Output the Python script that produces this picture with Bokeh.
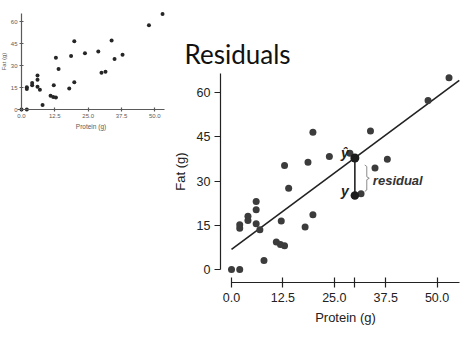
from bokeh.plotting import figure
from bokeh.models import Range1d, FixedTicker, PrintfTickFormatter, LinearAxis, Label
from bokeh.embed import file_html
from bokeh.resources import INLINE
from bokeh.core.properties import value

# ---- data ----
protein = [0.0, 2.0, 2.0, 2.0, 4.0, 4.0, 6.0, 6.0, 6.0, 6.9, 7.9, 10.9, 11.9, 12.9,
           12.1, 12.9, 13.9, 17.9, 18.6, 19.8, 19.8, 23.8, 28.8, 30.0, 31.5, 33.8,
           34.9, 37.9, 47.8, 52.9]
fat = [0.0, 0.0, 14.0, 15.2, 18.1, 16.6, 23.1, 20.3, 15.5, 13.5, 3.1, 9.3, 8.5, 8.1,
       16.5, 35.3, 27.6, 14.4, 36.4, 18.6, 46.6, 38.4, 39.5, 25.1, 25.7, 47.0,
       34.5, 37.4, 57.4, 65.1]
highlight_index = 23          # the point whose residual is shown
intercept = 6.8               # fitted line
slope = 1.036
line_x = [0.0, 55.4]

x_ticks = [0, 12.5, 25, 37.5, 50]
big_x_ticks = [0, 12.5, 25, 30, 37.5, 50]
y_ticks = [0, 15, 30, 45, 60]

title_text = "Residuals"
x_label = "Protein (g)"
y_label = "Fat (g)"
resid_label = "residual"
yhat_label = "ŷ"
y_obs_label = "y"

SANS = "Liberation Sans"
INK = "#222222"
W, H = 472, 350

# one canvas; the big chart uses the default ranges, the small one extra ranges
p = figure(width=W, height=H,
           x_range=Range1d(-56.18, 58.61), y_range=Range1d(-27.50, 91.34),
           x_axis_type=None, y_axis_type=None, min_border=0, title=None,
           output_backend="svg", toolbar_location=None)
p.outline_line_color = None
p.extra_x_ranges = {"sx": Range1d(-7.88, 169.17)}
p.extra_y_ranges = {"sy": Range1d(-164.32, 74.32)}


def add_axis(side, rx, ry, fixed, bounds, ticks, label, font, label_font, color,
             tick_out, tick_in, standoff, label_standoff, formatter=None, overrides=None):
    ax = LinearAxis(x_range_name=rx, y_range_name=ry, fixed_location=fixed, bounds=bounds,
                    ticker=FixedTicker(ticks=ticks), axis_label=label)
    if formatter is not None:
        ax.formatter = formatter
    if overrides:
        ax.major_label_overrides = overrides
    ax.axis_line_color = color
    ax.axis_line_width = 1.2
    ax.major_tick_line_color = color
    ax.major_tick_line_width = 1.2
    ax.minor_tick_line_color = None
    ax.major_tick_out = tick_out
    ax.major_tick_in = tick_in
    ax.major_label_text_font = SANS
    ax.major_label_text_font_size = font
    ax.major_label_text_color = color
    ax.major_label_standoff = standoff
    ax.axis_label_text_font = SANS
    ax.axis_label_text_font_size = label_font
    ax.axis_label_text_font_style = "normal"
    ax.axis_label_text_color = color
    ax.axis_label_standoff = label_standoff
    p.add_layout(ax, side)
    return ax

# ---- small chart (top left) ----
add_axis("below", "sx", "sy", 0, (-1.5, 53.5), x_ticks, x_label, "6px", "6.5px", "#5a5a5a",
         2, 2, 2, 2, formatter=PrintfTickFormatter(format="%.1f"))
add_axis("left", "sx", "sy", 0, (0, 65.5), y_ticks, y_label, "6px", "6px", "#5a5a5a",
         2, 2, 2, 1)
p.scatter(protein, fat, size=4, color="#262626", line_color=None,
          x_range_name="sx", y_range_name="sy")

# ---- title ----
p.add_layout(Label(x=184, y=H - 53, x_units="screen", y_units="screen", text=title_text,
                   text_font="Lato", text_font_size="26px", text_color="#111111",
                   text_baseline="alphabetic"))

# ---- big chart with residual ----
add_axis("below", "default", "default", -4.41, (0, 55.5), big_x_ticks, x_label, "12.5px", "13px",
         INK, 5, 5, 6, 4, formatter=PrintfTickFormatter(format="%.1f"), overrides={30: ""})
add_axis("left", "default", "default", -2.675, (0, 66.55), y_ticks, y_label, "12.5px", "13px",
         INK, 6, 0, 4, 6)

line_y = [intercept + slope * x for x in line_x]
p.line(line_x, line_y, line_color=INK, line_width=1.6)

p.scatter(protein, fat, size=7, color="#3c3c3c", line_color=None)

hx = protein[highlight_index]
hy = fat[highlight_index]
yhat = intercept + slope * hx
p.segment(x0=[hx], y0=[hy], x1=[hx], y1=[yhat], line_color=INK, line_width=1.6)
p.scatter([hx], [yhat], size=9, marker="circle", color="#1c1c1c", line_color=None)
p.scatter([hx], [hy], size=8.5, color="#1c1c1c", line_color=None)

# bracket next to the residual
bx = hx + 2.9
top = yhat - 2.7
bot = hy + 1.7
mid = (top + bot) / 2
bracket_x = [bx - 0.5, bx, bx, bx + 0.6, bx, bx, bx - 0.5]
bracket_y = [top + 0.3, top - 0.2, mid + 0.5, mid, mid - 0.5, bot + 0.2, bot - 0.3]
p.line(bracket_x, bracket_y, line_color="#8a8a8a", line_width=1)

p.text(x=[hx], y=[(yhat + hy) / 2 - 1.4], text=[resid_label], x_offset=18,
       text_font=value(SANS), text_font_size="13px", text_font_style="bold italic",
       text_color="#333333", text_baseline="alphabetic", text_align="left")
p.text(x=[hx, hx], y=[yhat + 1.7, hy + 1.7], text=[yhat_label, y_obs_label], x_offset=-6,
       text_font=value(SANS), text_font_size="14px", text_font_style="bold italic",
       text_color="#222222", text_baseline="middle", text_align="right")

open("out.html", "w").write(file_html(p, INLINE))
